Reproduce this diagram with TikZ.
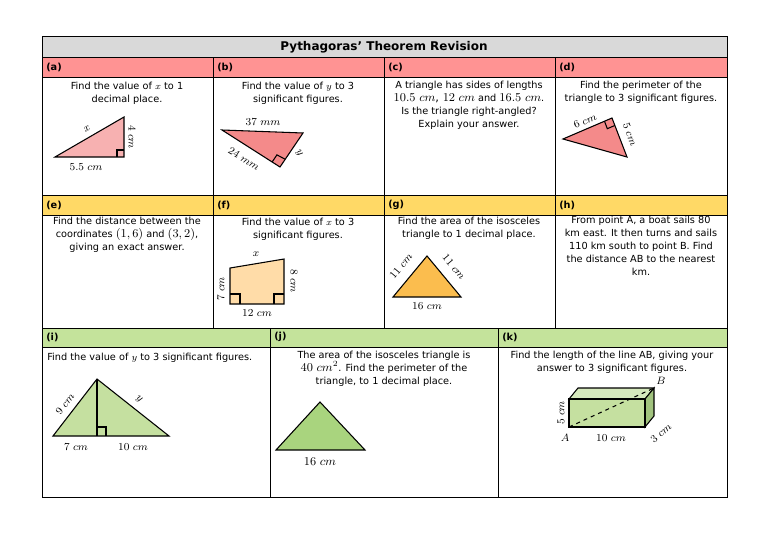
\documentclass[tikz,border=0pt]{standalone}
\usepackage{fontspec}
\setmainfont{DejaVu Sans}
\usetikzlibrary{calc}
\begin{document}
\begin{tikzpicture}[x=0.75pt,y=-0.75pt,
  txt/.style={font=\fontsize{7.3}{9.8}\selectfont,align=center,inner sep=0pt},
  hdr/.style={font=\fontsize{7.3}{8}\selectfont\bfseries,anchor=west,inner sep=0pt},
  lbl/.style={font=\fontsize{7.8}{8}\selectfont,inner sep=0pt},
  grid/.style={draw=black,line width=0.7pt},
  shp/.style={draw=black,line width=0.8pt}]
\useasboundingbox (0,0) rectangle (768,543);
\definecolor{tg}{HTML}{D9D9D9}
\definecolor{rh}{HTML}{FF9393}
\definecolor{yh}{HTML}{FFD966}
\definecolor{gh}{HTML}{C4E39B}
\definecolor{pa}{HTML}{F7B1B1}
\definecolor{pb}{HTML}{F48A8A}
\definecolor{of}{HTML}{FFDCA8}
\definecolor{og}{HTML}{FBBD4E}
\definecolor{gl}{HTML}{C5E0A0}
\definecolor{gd}{HTML}{A9D47E}
% backgrounds
\fill[tg] (42,36) rectangle (727,57);
\fill[rh] (42,57) rectangle (727,77);
\fill[yh] (42,195) rectangle (727,215);
\fill[gh] (42,328) rectangle (727,347);
% grid
\draw[grid] (42,36) rectangle (727,497);
\foreach \y in {57,77,195,215,328,347} \draw[grid] (42,\y) -- (727,\y);
\foreach \x in {213,384,555} \draw[grid] (\x,57) -- (\x,328);
\foreach \x in {270,498} \draw[grid] (\x,328) -- (\x,497);
% title
\node[font=\fontsize{9}{10}\selectfont\bfseries] (title) at (384,47) {Pythagoras’ Theorem Revision};
% headers
\node[hdr] (ha) at (46,67) {(a)};
\node[hdr] (hb) at (217,67) {(b)};
\node[hdr] (hc) at (388,67) {(c)};
\node[hdr] (hd) at (559,67) {(d)};
\node[hdr] (he) at (46,205) {(e)};
\node[hdr] (hf) at (217,205) {(f)};
\node[hdr] (hg) at (388,205) {(g)};
\node[hdr] (hh) at (559,205) {(h)};
\node[hdr] (hi) at (46,337) {(i)};
\node[hdr] (hj) at (274,337) {(j)};
\node[hdr] (hk) at (502,337) {(k)};
% texts
\node[txt,anchor=north] (ta) at (127,82) {Find the value of $x$ to 1\\decimal place.};
\node[txt,anchor=north] (tb) at (298,82) {Find the value of $y$ to 3\\significant figures.};
\node[txt,anchor=north] (tc) at (469,81) {A triangle has sides of lengths\\{\fontsize{8.6}{9.8}\selectfont$10.5\ cm$, $12\ cm$} and {\fontsize{8.6}{9.8}\selectfont$16.5\ cm$}.\\Is the triangle right-angled?\\Explain your answer.};
\node[txt,anchor=north] (td) at (641,81) {Find the perimeter of the\\triangle to 3 significant figures.};
\node[txt,anchor=north] (te) at (127,217) {Find the distance between the\\coordinates {\fontsize{8.6}{9.8}\selectfont$(1,6)$} and {\fontsize{8.6}{9.8}\selectfont$(3,2)$},\\giving an exact answer.};
\node[txt,anchor=north] (tf) at (298,218) {Find the value of $x$ to 3\\significant figures.};
\node[txt,anchor=north] (tg) at (469,217) {Find the area of the isosceles\\triangle to 1 decimal place.};
\node[txt,anchor=north] (th) at (641,216) {From point A, a boat sails 80\\km east. It then turns and sails\\110 km south to point B. Find\\the distance AB to the nearest\\km.};
\node[txt,anchor=north west] (ti) at (47,353) {Find the value of $y$ to 3 significant figures.};
\node[txt,anchor=north] (tj) at (384,351) {The area of the isosceles triangle is\\{\fontsize{8.6}{9.8}\selectfont$40\ cm^2$}. Find the perimeter of the\\triangle, to 1 decimal place.};
\node[txt,anchor=north] (tk) at (612,351) {Find the length of the line AB, giving your\\answer to 3 significant figures.};
% (a)
\filldraw[shp,fill=pa] (55,157) -- (124,117) -- (124,157) -- cycle;
\draw[shp] (117,157) -- (117,150) -- (124,150);
\node[lbl,rotate=30] (la1) at (87,129) {$x$};
\node[lbl,rotate=-90] (la2) at (132,137) {$4\ cm$};
\node[lbl] (la3) at (86,167) {$5.5\ cm$};
% (b)
\filldraw[shp,fill=pb] (222,130) -- (303,133) -- (280,167) -- cycle;
\draw[shp] ($(280,167)!7pt!(222,130)$) -- ++(4.8,-7.1) -- ($(280,167)!7pt!(303,133)$);
\node[lbl] (lb1) at (263,122) {$37\ mm$};
\node[lbl,rotate=-32] (lb2) at (244,159) {$24\ mm$};
\node[lbl,rotate=-56] (lb3) at (299,153) {$y$};
% (d)
\filldraw[shp,fill=pb] (563,139) -- (612,118) -- (627,157) -- cycle;
\draw[shp] (604.5,121.2) -- (607.3,128.7) -- (614.8,125.5);
\node[lbl,rotate=23] (ld1) at (585,121) {$6\ cm$};
\node[lbl,rotate=-69] (ld2) at (630,134) {$5\ cm$};
% (f)
\filldraw[shp,fill=of] (230,268) -- (284,259) -- (284,304) -- (230,304) -- cycle;
\draw[shp] (230,294) -- (240,294) -- (240,304);
\draw[shp] (284,294) -- (274,294) -- (274,304);
\node[lbl] (lf1) at (256,254) {$x$};
\node[lbl,rotate=-90] (lf2) at (294,281) {$8\ cm$};
\node[lbl,rotate=90] (lf3) at (221,289) {$7\ cm$};
\node[lbl] (lf4) at (257,313) {$12\ cm$};
% (g)
\filldraw[shp,fill=og] (393,297) -- (427,256) -- (461,297) -- cycle;
\node[lbl,rotate=50] (lg1) at (401,266) {$11\ cm$};
\node[lbl,rotate=-50] (lg2) at (454,267) {$11\ cm$};
\node[lbl] (lg3) at (427,306) {$16\ cm$};
% (i)
\filldraw[shp,fill=gl] (53,436) -- (97,379) -- (169,436) -- cycle;
\draw[shp] (97,379) -- (97,436);
\draw[shp] (97,427) -- (106,427) -- (106,436);
\node[lbl,rotate=52] (li1) at (65,404) {$9\ cm$};
\node[lbl,rotate=-38] (li2) at (139,399) {$y$};
\node[lbl] (li3) at (76,447) {$7\ cm$};
\node[lbl] (li4) at (133,447) {$10\ cm$};
% (j)
\filldraw[shp,fill=gd] (276,450) -- (320,402) -- (365,450) -- cycle;
\node[lbl,font=\fontsize{8.6}{9}\selectfont] (lj1) at (320,462) {$16\ cm$};
% (k)
\filldraw[shp,fill=gl!70!white] (569,399) -- (578,388) -- (654,388) -- (645,399) -- cycle;
\filldraw[shp,fill=gd!80!gray] (645,399) -- (654,388) -- (654,416) -- (645,427) -- cycle;
\filldraw[shp,fill=gl] (569,399) rectangle (645,427);
\coordinate (A) at (569,427);
\coordinate (B) at (654,388);
\draw[shp,dashed] (A) -- (B);
\node[lbl] (lkA) at (565,438) {$A$};
\node[lbl] (lkB) at (661,381) {$B$};
\node[lbl,rotate=90] (lk1) at (561,413) {$5\ cm$};
\node[lbl] (lk2) at (611,438) {$10\ cm$};
\node[lbl,rotate=40] (lk3) at (661,433) {$3\ cm$};
\end{tikzpicture}
\end{document}
